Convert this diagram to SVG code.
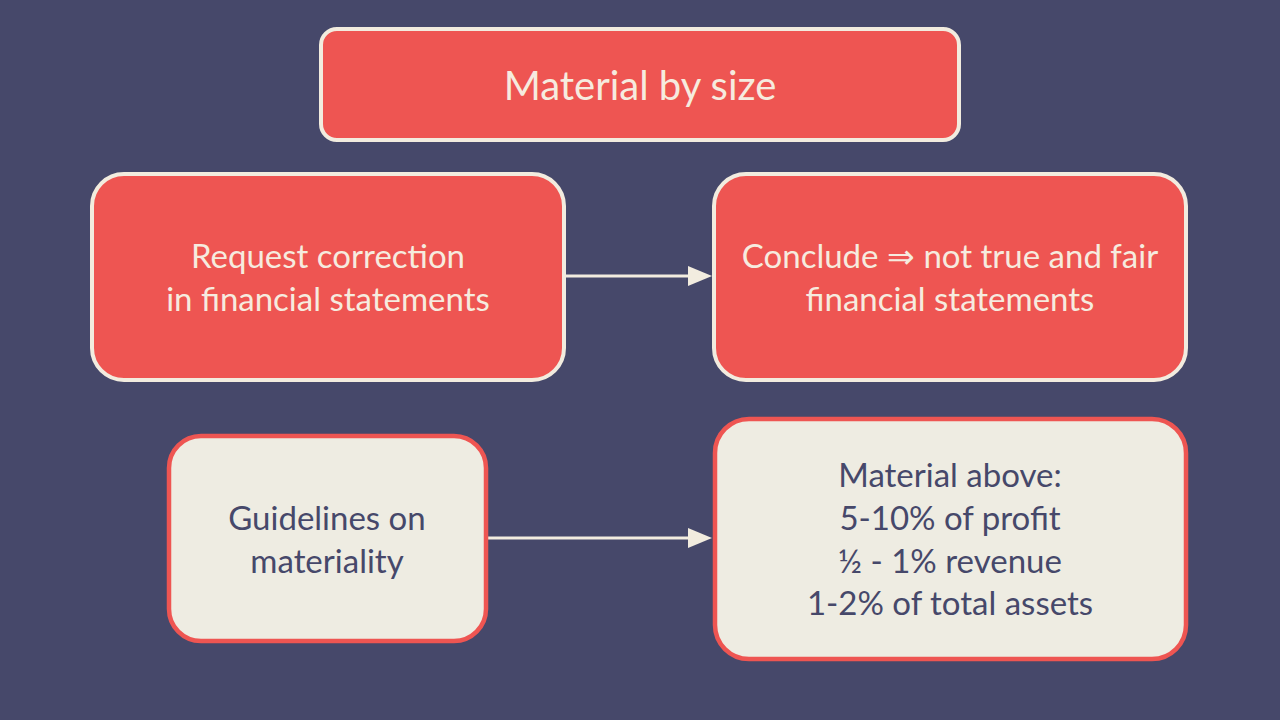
<svg xmlns="http://www.w3.org/2000/svg" width="1280" height="720" viewBox="0 0 1280 720">
<defs>
<style>
.red{fill:#EE5552;stroke:#F2ECDF;stroke-width:4}
.cream{fill:#EEECE2;stroke:#EE5552;stroke-width:4.5}
.tl{font-family:Lato,"Open Sans",sans-serif;font-size:33px;text-anchor:middle;fill:#F6EBDF}
.td{font-family:Lato,"Open Sans",sans-serif;font-size:33px;text-anchor:middle;fill:#46486A}
.title{font-size:40px}
.conn{stroke:#F2ECDF;stroke-width:3;fill:none}
</style>
</defs>
<rect width="1280" height="720" fill="#46486A"/>
<g id="connectors">
<line class="conn" x1="565" y1="276" x2="690" y2="276"/>
<path d="M688,266 L712,276 L688,286 Z" fill="#F2ECDF"/>
<line class="conn" x1="487" y1="538" x2="690" y2="538"/>
<path d="M688,528 L712,538 L688,548 Z" fill="#F2ECDF"/>
</g>
<g id="top">
<rect class="red" x="321" y="29" width="638" height="111" rx="16"/>
<text class="tl title" x="640" y="100">Material by size</text>
</g>
<g id="request">
<rect class="red" x="92" y="174" width="472" height="206" rx="32"/>
<text class="tl" x="328" y="268">Request correction</text>
<text class="tl" x="328" y="311">in financial statements</text>
</g>
<g id="conclude">
<rect class="red" x="714" y="174" width="472" height="206" rx="32"/>
<text class="tl" x="950" y="268">Conclude ⇒ not true and fair</text>
<text class="tl" x="950" y="311">financial statements</text>
</g>
<g id="guidelines">
<rect class="cream" x="169" y="436" width="317" height="205" rx="32"/>
<text class="td" x="327" y="530">Guidelines on</text>
<text class="td" x="327" y="573">materiality</text>
</g>
<g id="material">
<rect class="cream" x="715" y="419" width="471" height="240" rx="34"/>
<text class="td" x="950" y="487">Material above:</text>
<text class="td" x="950" y="530">5-10% of profit</text>
<text class="td" x="950" y="573">½ - 1% revenue</text>
<text class="td" x="950" y="615">1-2% of total assets</text>
</g>
</svg>
